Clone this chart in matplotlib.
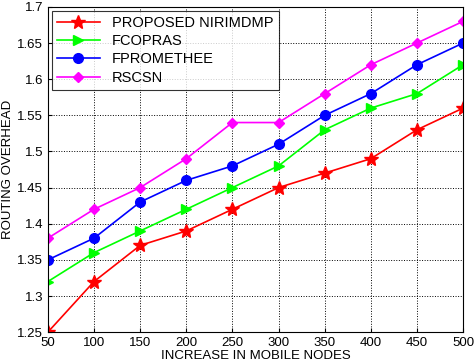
import numpy as np
import matplotlib
matplotlib.use('Agg')
import matplotlib.pyplot as plt

plt.rcParams['font.family'] = ['Liberation Sans', 'DejaVu Sans']

nodes = [50, 100, 150, 200, 250, 300, 350, 400, 450, 500]
proposed = [1.25, 1.32, 1.37, 1.39, 1.42, 1.45, 1.47, 1.49, 1.53, 1.56]
fcopras = [1.32, 1.36, 1.39, 1.42, 1.45, 1.48, 1.53, 1.56, 1.58, 1.62]
fpromethee = [1.35, 1.38, 1.43, 1.46, 1.48, 1.51, 1.55, 1.58, 1.62, 1.65]
rscsn = [1.38, 1.42, 1.45, 1.49, 1.54, 1.54, 1.58, 1.62, 1.65, 1.68]

yticks = [1.25, 1.3, 1.35, 1.4, 1.45, 1.5, 1.55, 1.6, 1.65, 1.7]
ytick_labels = ['1.25', '1.3', '1.35', '1.4', '1.45', '1.5', '1.55', '1.6', '1.65', '1.7']

fig = plt.figure(figsize=(4.74, 3.63), dpi=100)
ax = fig.add_axes([0.101, 0.085, 0.876, 0.896])

ax.plot(nodes, proposed, color='red', marker='*', markersize=10, lw=1.2, label='PROPOSED NIRIMDMP')
ax.plot(nodes, fcopras, color='#00ff00', marker='>', markersize=7.5, lw=1.2, label='FCOPRAS')
ax.plot(nodes, fpromethee, color='blue', marker='o', markersize=7, lw=1.2, label='FPROMETHEE')
ax.plot(nodes, rscsn, color='magenta', marker='D', markersize=5.5, lw=1.2, label='RSCSN')

ax.set_xlim(50, 500)
ax.set_ylim(1.25, 1.7)
ax.set_xticks(nodes)
ax.set_yticks(yticks)
ax.set_yticklabels(ytick_labels)
ax.tick_params(labelsize=9.5, direction='in', length=3)
ax.grid(True, linestyle=':', color='black', linewidth=0.7)
ax.set_xlabel('INCREASE IN MOBILE NODES', fontsize=9.5, labelpad=1)
ax.set_ylabel('ROUTING OVERHEAD', fontsize=9.5, labelpad=2)

leg = ax.legend(loc='upper left', fontsize=10.5, fancybox=False, edgecolor='black',
                borderaxespad=0.25, handlelength=3.0, labelspacing=0.3, borderpad=0.35)
leg.get_frame().set_linewidth(0.8)

fig.savefig('out.png', dpi=100)
